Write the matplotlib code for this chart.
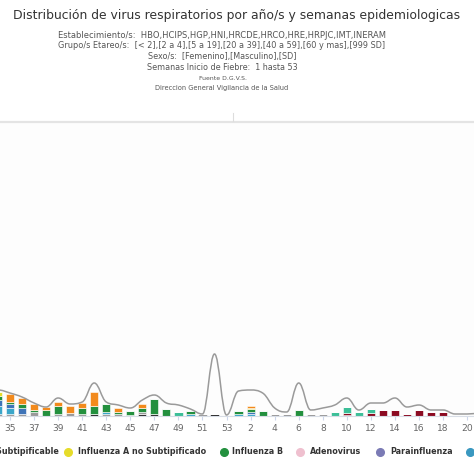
import matplotlib
matplotlib.use("Agg")
import matplotlib.pyplot as plt
from matplotlib.path import Path
from matplotlib.patches import PathPatch
import numpy as np

# ---------------- data ----------------
weeks = [33, 34, 35, 36, 37, 38, 39, 40, 41, 42, 43, 44, 45, 46, 47, 48, 49, 50, 51, 52, 53,
         1, 2, 3, 4, 5, 6, 7, 8, 9, 10, 11, 12, 13, 14, 15, 16, 17, 18, 19, 20, 21]

otros      = [0, 0, 0, 0, 0, 0, 0, 0, 0, 1, 0, 0, 0, 1, 1, 0, 0, 0, 0, 1, 0,
              0, 0, 0, 0, 0, 0, 0, 0, 0, 0.5, 0, 0, 0, 0, 0, 0, 0, 0, 0, 0, 0]
sars_cov2  = [0, 0, 0, 0, 0, 0, 0, 0, 0, 0, 0, 0, 0, 0, 0, 0, 0, 0, 0, 0, 0,
              0, 0, 0, 0, 0, 0, 0, 0, 0, 1, 0, 1.5, 3, 3, 1, 3, 2, 2, 0, 0, 0]
no_subtipificable = [1, 1, 1, 1, 2, 0, 1, 1.5, 1, 0, 1, 1, 0, 1, 0, 0, 0, 0, 1, 0, 0,
                     0, 0, 0, 1, 1, 0, 1, 1, 0, 0, 0, 0, 0, 0, 0, 0, 0, 0, 0, 0, 0]
vsr        = [4, 4, 3, 0, 0, 0, 0, 0, 0, 0, 1, 0, 0, 0, 0, 0, 0, 1, 0, 0, 0,
              1, 1, 0, 0, 0, 0, 0, 0, 0, 0, 0, 0, 0, 0, 0, 0, 0, 0, 0, 0, 0]
metapneumovirus = [0, 0, 0, 0, 0, 0, 0, 0, 0, 0, 0, 0, 0.5, 0, 0, 0, 2, 0, 0, 0, 0,
                   0, 0, 0, 0, 0, 0, 0, 0, 2, 3, 2, 2, 0, 0, 0, 0, 0, 0, 0, 0, 0]
h3n2       = [3, 3, 2, 3, 0, 0, 0, 0, 0, 0, 0, 0, 0, 0, 0, 0, 0, 0, 0, 0, 0,
              0, 1, 0, 0, 0, 0, 0, 0, 0, 0, 0, 0, 0, 0, 0, 0, 0, 0, 0, 0, 0]
influenza_b = [2, 2, 1, 2, 1, 3, 4, 0, 3, 4, 4, 1, 2, 2, 7.5, 3.5, 0, 1.5, 0, 0, 0,
               1.5, 1.5, 2.5, 0, 0, 3, 0, 0, 0, 0, 0, 0, 0, 0, 0, 0, 0, 0, 0, 0, 0]
no_subtipificado = [2, 2, 0, 0, 0, 0, 0, 0, 0, 0, 0, 0, 0, 0, 0, 0, 0, 0, 0, 0, 0,
                    0, 0.5, 0, 0, 0, 0, 0, 0, 0, 0, 0, 0, 0, 0, 0, 0, 0, 0, 0, 0, 0]
h1n1       = [2, 0, 4, 3, 3, 1.5, 2, 3.5, 2.5, 7, 0, 2, 0, 2, 0, 0, 0, 0, 0, 0, 0,
              0, 1, 0, 0, 0, 0, 0, 0, 0, 0, 0, 0, 0, 0, 0, 0, 0, 0, 0, 0, 0]

linea_total = [12, 13, 11.5, 9.5, 6.5, 4.5, 9, 6, 7, 16.5, 7, 5.5, 4, 8, 10.5, 6.5, 5.5, 3.5, 1, 31, 0.5,
               12.5, 13, 11.5, 4, 2, 16.5, 3, 4, 5.5, 9, 3, 6.5, 6.5, 9, 4.5, 5.5, 3, 3, 1, 1, 1.5]

tick_labels = ["35", "37", "39", "41", "43", "45", "47", "49", "51", "53",
               "2", "4", "6", "8", "10", "12", "14", "16", "18", "20"]

legend_names = ["Influenza A no Subtipificable", "Influenza A no Subtipificado", "Influenza B",
                "Adenovirus", "Parainfluenza"]

titulo = "Distribución de virus respiratorios por año/s y semanas epidemiologicas"
subtitulos = [
    "Establecimiento/s:  HBO,HCIPS,HGP,HNI,HRCDE,HRCO,HRE,HRPJC,IMT,INERAM",
    "Grupo/s Etareo/s:  [< 2],[2 a 4],[5 a 19],[20 a 39],[40 a 59],[60 y mas],[999 SD]",
    "Sexo/s:  [Femenino],[Masculino],[SD]",
    "Semanas Inicio de Fiebre:  1 hasta 53",
]
fuente = "Fuente D.G.V.S."
direccion = "Direccion General Vigilancia de la Salud"

# ---------------- figure ----------------
W = H = 474
fig = plt.figure(figsize=(4.74, 4.74), dpi=100)
fig.patch.set_facecolor("white")

def fy(py):
    return 1 - py / H

def fx(px):
    return px / W

base_px, top_px = 416, 123
ax = fig.add_axes([0, fy(base_px), 1, (base_px - top_px) / H])
ax.set_facecolor("#fdfdfd")

x = np.arange(len(weeks))
i35 = weeks.index(35)
step = 12.03
ax.set_xlim(i35 - 10 / step, i35 + (W - 10) / step)
ax.set_ylim(0, (base_px - top_px) / 2.0)

stack = [
    (otros, "#2b2b2b"),
    (sars_cov2, "#8c0b22"),
    (no_subtipificable, "#9a9a9a"),
    (vsr, "#3aa6c9"),
    (metapneumovirus, "#3cbf98"),
    (h3n2, "#3f74b8"),
    (influenza_b, "#23903e"),
    (no_subtipificado, "#e6dc2a"),
    (h1n1, "#f28a1c"),
]
bottom = np.zeros(len(weeks))
for vals, col in stack:
    v = np.array(vals, dtype=float)
    ax.bar(x, v, bottom=bottom, width=0.68, color=col, edgecolor="white",
           linewidth=0.4, zorder=2)
    bottom += v

# Highcharts-like spline through the total line
yv = np.array(linea_total, dtype=float)
xv = x.astype(float)
n = len(xv)
sm = 1.5
lc = [None] * n
rc = [None] * n
for i in range(n):
    px_, py_ = xv[i], yv[i]
    if 0 < i < n - 1:
        lx, ly = xv[i - 1], yv[i - 1]
        nx, ny = xv[i + 1], yv[i + 1]
        lcx = (sm * px_ + lx) / (sm + 1)
        lcy = (sm * py_ + ly) / (sm + 1)
        rcx = (sm * px_ + nx) / (sm + 1)
        rcy = (sm * py_ + ny) / (sm + 1)
        corr = ((rcy - lcy) * (rcx - px_)) / (rcx - lcx) + py_ - rcy
        lcy += corr
        rcy += corr
        if lcy > ly and lcy > py_:
            lcy = max(ly, py_)
            rcy = 2 * py_ - lcy
        elif lcy < ly and lcy < py_:
            lcy = min(ly, py_)
            rcy = 2 * py_ - lcy
        if rcy > ny and rcy > py_:
            rcy = max(ny, py_)
            lcy = 2 * py_ - rcy
        elif rcy < ny and rcy < py_:
            rcy = min(ny, py_)
            lcy = 2 * py_ - rcy
        lc[i] = (lcx, lcy)
        rc[i] = (rcx, rcy)
    else:
        lc[i] = (px_, py_)
        rc[i] = (px_, py_)
verts = [(xv[0], yv[0])]
codes = [Path.MOVETO]
for i in range(1, n):
    verts += [rc[i - 1], lc[i], (xv[i], yv[i])]
    codes += [Path.CURVE4] * 3
ax.add_patch(PathPatch(Path(verts, codes), facecolor="none", edgecolor="#9a9a9a",
                       linewidth=1.1, zorder=3))

for s in ["top", "right", "left"]:
    ax.spines[s].set_visible(False)
ax.spines["bottom"].set_color("#d8dde6")
ax.spines["bottom"].set_linewidth(0.8)
ax.set_yticks([])
tick_pos = [weeks.index(int(t), i35 if int(t) >= 35 else weeks.index(1)) for t in tick_labels]
ax.set_xticks(tick_pos)
ax.set_xticklabels(tick_labels, fontsize=6.6, color="#666666")
ax.tick_params(axis="x", length=3, color="#ccd6eb", pad=2.5)

# top separator line
fig.add_artist(plt.Line2D([0, 1], [fy(121.5), fy(121.5)], color="#e4e4e4", linewidth=1.6))
fig.add_artist(plt.Line2D([fx(233), fx(233)], [fy(113), fy(121)], color="#dddddd", linewidth=0.8))

# titles
fig.text(fx(236.5), fy(15), titulo, ha="center", va="center", fontsize=8.95, color="#333333",
         family="DejaVu Sans")
sub_y = [35, 46, 57, 68]
sub_size = [6.0, 5.85, 5.8, 5.8]
for t, yy, fs in zip(subtitulos, sub_y, sub_size):
    fig.text(fx(222), fy(yy), t, ha="center", va="center", fontsize=fs, color="#555555")
fig.text(fx(223), fy(78), fuente, ha="center", va="center", fontsize=4.4, color="#555555")
fig.text(fx(222), fy(88), direccion, ha="center", va="center", fontsize=4.8, color="#555555")

# legend (clipped by the figure edges like the reference)
leg_y = fy(452)
leg_items = [
    (legend_names[0], "#9a9a9a", -72, -82),
    (legend_names[1], "#e6dc2a", 78, 68),
    (legend_names[2], "#23903e", 232, 224),
    (legend_names[3], "#efc0cf", 310, 300),
    (legend_names[4], "#7b7bb5", 390, 380),
]
for name, col, tx, mx in leg_items:
    fig.add_artist(plt.Line2D([fx(mx)], [leg_y], marker="o", markersize=5.5,
                              color=col, linestyle="none"))
    fig.text(fx(tx), leg_y, name, ha="left", va="center", fontsize=5.75,
             fontweight="bold", color="#333333")
# partially visible marker of the next legend entry at the right edge
fig.add_artist(plt.Line2D([fx(470)], [leg_y], marker="o", markersize=5.5,
                          color="#3a98c0", linestyle="none"))

fig.savefig("out.png", dpi=100, facecolor="white")
